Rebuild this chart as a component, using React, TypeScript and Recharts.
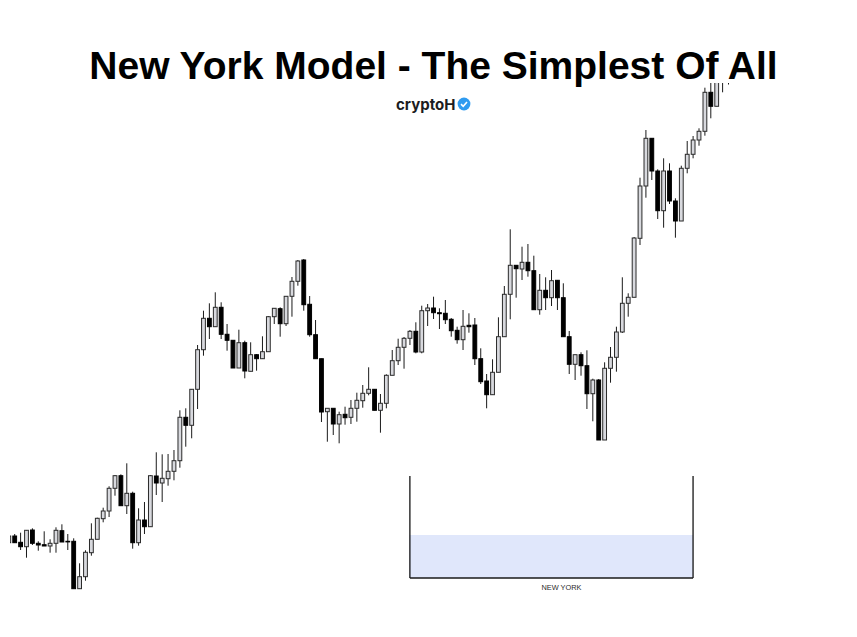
import React from 'react';
import { Bar, ComposedChart, ReferenceArea, ReferenceLine, XAxis, YAxis } from 'recharts';

const opens = [94.3,101,94.7,90.3,107,93.7,92.3,91,93.7,106.3,95.7,95.7,48.3,60.3,84.3,97.7,118.3,126,148.7,161.3,131.3,143.7,94.3,117,110.3,161,154,158.3,165.7,176.3,219.7,211.7,247.7,287.3,318.7,310.3,329.7,302.7,296.7,269,294.3,265.7,282.3,278.3,285.3,320.3,328.3,313.3,340.7,355.7,377,332.7,302.3,278.3,225.3,228.7,213,222.7,219.7,228.7,236.3,243.7,247.7,226.7,233.7,261.7,276.3,289.7,298.7,305.7,285,326.3,329,324.3,323.7,317.7,306.7,297.3,311.7,312,278.3,256,242.3,264.7,300.3,342.7,371.7,368,374.7,366.3,327.3,346.7,339.3,356.7,339.3,300.3,272.7,282.3,271.3,243.3,257,197,268.7,279.7,305,333.7,339.7,398.7,451,498.7,466,426.3,466,436,416,468.7,482.7,497,505.7,544.7,530.7,557,557];
const closes = [101,94.3,90.3,106.7,93.7,92,91,93.7,106.7,95,95.3,48.3,60.3,84.7,97.7,118.7,126,148.7,161.3,131.3,143.7,94.3,117,110.3,161.3,154,158.7,165.7,176.3,219.7,211.7,247.7,287.3,318.7,310.3,329.7,302.7,296.7,269,294.3,266,282.3,278.3,285.3,320.3,328.7,313.3,340.7,355.7,376,332.3,302.3,278.3,225,228.7,213,222.3,219.3,228.7,236.7,243.7,247.7,226.7,233.7,261.7,276.3,289.7,298.7,305.7,285,326.3,329,324.3,323.3,317.3,306.3,297.3,310.7,310.3,278.3,255.3,242.3,264.7,300.3,342.7,371.7,368.3,374.7,366.3,327.3,346.7,339.3,356.3,339.3,300.3,272.7,282.3,271.3,243.3,257,197,268.7,279.7,305,333.7,339.7,399,451,498.7,466,426.3,466,436,416,468.7,482.7,497,505.7,544.7,530.7,557,557,557];
const highs = [101,103,104.3,107,108.7,95.7,105.7,97.7,109.7,112.7,103,98.7,73.7,86.7,113.7,119.3,129.3,150.7,162,162.7,173.7,145.3,128.7,135,162,184.7,182.7,183,187,226.7,228.7,248,292,326.3,333.7,344.7,334.7,313,297,307.3,296.3,294.7,283,300.7,321,329,329.7,341,360,377,378,341,317,278.3,228.7,228.7,225.3,230.3,237,244.3,252,269.7,248,243,262.7,287,298.3,300,307,314.7,331.3,333,340.3,328.7,337,319,310.3,327,323.7,319,288.7,263,277.7,319.7,351,407.7,372,390.3,393,381.3,363,359.7,367,357,353.7,306,282.3,284.7,286.7,258.3,258,274.7,290,310.3,359.7,343.7,400,459.3,507,499,467.7,478.7,473.7,438.7,471.3,496,501,508.7,549.3,557,557,557,557];
const lows = [94,94,87,79.3,92,86.3,91,84.3,84.3,95,87,48.3,48.3,56.3,81.3,97.7,114.7,120,141.3,131.3,123,88.3,91.3,103,110.3,142,135,151.3,156.7,169.3,190.3,198.7,228,281.3,298,310,298,286.3,269,269,258.7,265.7,266.3,278.3,285.3,313,300.3,311,320.3,351.3,326.3,300.3,278.3,215,195.3,202,193.7,212.3,213,215.3,229.3,241.7,226.7,204.3,228.7,261.7,272,268.3,292,283.7,283.7,311,318,308,313,300.3,293.3,287,304.3,272,253,228.7,242.3,264.7,300.3,317.7,339.3,357,360.3,327.3,322.3,327,331,327,300.3,263,257,261.3,228,215.7,197,197,254.3,265.3,304,320.3,339.7,392,439.3,457,418,409.3,433,399.3,416,463.7,478.7,491.3,501.3,518.7,530.7,544.7,552.5];

const sessionStart = 68;
const sessionEnd = 116;
const sessionTop = 161;
const sessionFillTop = 102;
const sessionBottom = 59;
const sessionLabel = 'NEW YORK';

const candles = opens.map((open, i) => ({
  i,
  open,
  close: closes[i],
  high: highs[i],
  low: lows[i],
  range: [lows[i], highs[i]],
}));

const Candle = (props: any) => {
  const { x, y, width, height, payload } = props;
  const { open, close, high, low } = payload;
  const perUnit = height / (high - low);
  const cx = x + width / 2;
  const bodyTop = y + (high - Math.max(open, close)) * perUnit;
  const bodyH = Math.abs(open - close) * perUnit;
  const up = close >= open;
  return (
    <g>
      <line x1={cx} x2={cx} y1={y} y2={y + height} stroke="#1a1a1a" strokeWidth={1} />
      <rect
        x={cx - 1.9}
        y={bodyTop}
        width={3.8}
        height={Math.max(bodyH, 0.6)}
        fill={up ? '#d8d9de' : '#000000'}
        stroke={up ? '#2a2a2a' : '#000000'}
        strokeWidth={1}
      />
    </g>
  );
};

// reference area snaps to band edges, pull it back to the candle centres
const SessionFill = (props: any) => {
  const { x, y, width, height } = props;
  return <rect x={x + 2.6} y={y} width={width - 5.6} height={height} fill="#e0e7fb" />;
};

export default function App() {
  return (
    <div style={{ position: 'absolute', left: 0, top: 0, width: 857, height: 637, background: '#fff', overflow: 'hidden' }}>
      <div style={{ clipPath: 'inset(83px 0 0 10px)', width: 857, height: 637 }}>
        <ComposedChart
          width={857}
          height={637}
          data={candles}
          margin={{ top: 0, right: 125.6, bottom: 0, left: 5.8 }}
          barCategoryGap={0}
        >
          <XAxis dataKey="i" type="category" hide />
          <YAxis type="number" domain={[0, 637]} hide />
          <ReferenceArea x1={sessionStart} x2={sessionEnd} y1={sessionBottom} y2={sessionFillTop} shape={SessionFill} />
          <ReferenceLine segment={[{ x: sessionStart, y: sessionTop }, { x: sessionStart, y: sessionBottom }]} stroke="#000" strokeWidth={1.2} />
          <ReferenceLine segment={[{ x: sessionEnd, y: sessionTop }, { x: sessionEnd, y: sessionBottom }]} stroke="#000" strokeWidth={1.2} />
          <ReferenceLine
            segment={[{ x: sessionStart, y: sessionBottom }, { x: sessionEnd, y: sessionBottom }]}
            stroke="#1a1a1a"
            strokeWidth={1.6}
            label={{ value: sessionLabel, position: 'bottom', offset: 7, dx: 10, fontSize: 7.4, fill: '#2a2a2a', fontFamily: 'Liberation Sans' }}
          />
          <Bar dataKey="range" shape={Candle} isAnimationActive={false} />
        </ComposedChart>
      </div>
      <div style={{ position: 'absolute', left: 0, width: 867, top: 42, textAlign: 'center', fontFamily: 'Liberation Sans', fontWeight: 700, fontSize: 39, lineHeight: '48px', color: '#000' }}>
        New York Model - The Simplest Of All
      </div>
      <div style={{ position: 'absolute', left: 396, top: 96, fontFamily: 'Inter', fontWeight: 700, fontSize: 15, lineHeight: '18px', color: '#1c1c22' }}>
        cryptoH
      </div>
      <svg style={{ position: 'absolute', left: 457, top: 97 }} width={14} height={14} viewBox="0 0 14 14">
        <circle cx={7} cy={7} r={6.4} fill="#2f9bf0" />
        <path d="M4 7.2 L6.2 9.3 L10 5" fill="none" stroke="#fff" strokeWidth={1.6} />
      </svg>
    </div>
  );
}
